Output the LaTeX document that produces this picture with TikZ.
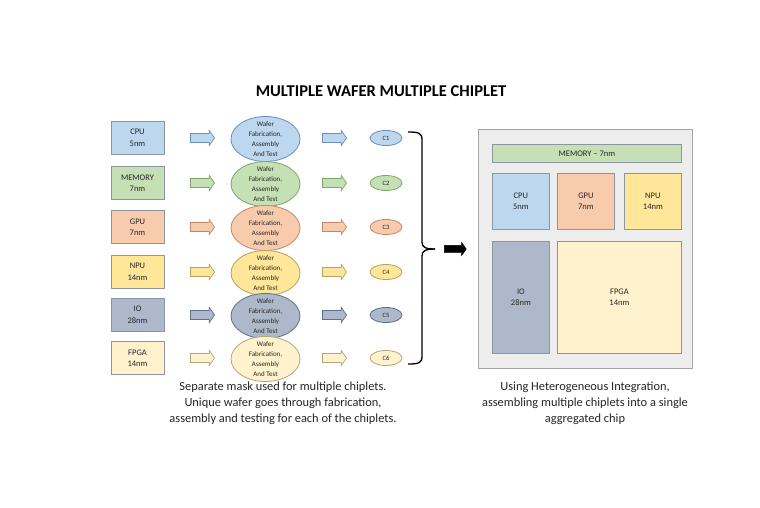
\documentclass[tikz,border=0pt]{standalone}
\usepackage{fontspec}
\setmainfont{Carlito}
\usetikzlibrary{shapes.arrows,shapes.geometric}
\definecolor{cpuF}{HTML}{BDD7EE}\definecolor{cpuD}{HTML}{6C8EBF}
\definecolor{memF}{HTML}{C5E0B4}\definecolor{memD}{HTML}{7FA66A}
\definecolor{gpuF}{HTML}{F8CBAD}\definecolor{gpuD}{HTML}{C08A6A}
\definecolor{npuF}{HTML}{FFE699}\definecolor{npuD}{HTML}{B8A060}
\definecolor{ioF}{HTML}{ADB9CA}\definecolor{ioD}{HTML}{5F708A}
\definecolor{fpgaF}{HTML}{FFF2CC}\definecolor{fpgaD}{HTML}{B3A47A}
\definecolor{edgeG}{HTML}{8C96A3}
\definecolor{txt}{HTML}{262626}
\tikzset{
  chipbox/.style={draw=edgeG, line width=0.8pt, minimum width=53pt, minimum height=33pt, align=center, font=\fontsize{8.5}{11.5}\selectfont, text=txt, inner sep=0pt},
  fab/.style={ellipse, draw, line width=0.8pt, minimum width=69pt, minimum height=45pt, inner sep=0pt},
  fabtxt/.style={align=center, font=\fontsize{7}{10}\selectfont, text=txt, inner sep=0pt},
  cl/.style={ellipse, draw, line width=0.8pt, minimum width=32pt, minimum height=15pt, inner sep=0pt, font=\fontsize{6.5}{8}\selectfont, text=txt},
  blk/.style={single arrow, draw, line width=0.7pt, minimum height=24pt, minimum width=15pt, single arrow head extend=3pt, inner xsep=0pt, inner ysep=4pt, single arrow tip angle=110},
  die/.style={draw=edgeG, line width=0.8pt, anchor=north west, align=center, font=\fontsize{8.5}{11.5}\selectfont, text=txt, inner sep=0pt},
  captxt/.style={align=center, font=\fontsize{12.4}{16}\selectfont, text=txt}
}
\begin{document}
\begin{tikzpicture}[x=1pt,y=-1pt]
\useasboundingbox (0,0) rectangle (760,507);
\fill[white] (0,0) rectangle (760,507);
\node[font=\fontsize{16.5}{18}\selectfont\bfseries, text=black] (title) at (381,91) {MULTIPLE WAFER MULTIPLE CHIPLET};
% rows
\foreach \nm/\lbl/\yy/\F/\D/\cc in {cpu/{CPU\\5nm}/138/cpuF/cpuD/C1, mem/{MEMORY\\7nm}/183/memF/memD/C2, gpu/{GPU\\7nm}/227/gpuF/gpuD/C3, npu/{NPU\\14nm}/272/npuF/npuD/C4, io/{IO\\28nm}/315/ioF/ioD/C5, fpga/{FPGA\\14nm}/358/fpgaF/fpgaD/C6}{
  \node[chipbox, fill=\F] (\nm-box) at (137.5,\yy) {\lbl};
  \node[blk, fill=\F, draw=\D] (\nm-a1) at (201,\yy) {};
  \node[fab, fill=\F, draw=\D] (\nm-fab) at (265.5,\yy+1) {};
  \node[fabtxt] (\nm-fabt) at (\nm-fab) {Wafer\\Fabrication,\\Assembly\\And Test};
  \node[blk, fill=\F, draw=\D] (\nm-a2) at (333,\yy) {};
  \node[cl, fill=\F, draw=\D] (\nm-c) at (386,\yy) {\cc};
}
% brace
\draw[line width=1.3pt, black] (408,132) .. controls (419,132) and (422,133) .. (422,140) -- (422,242) .. controls (422,247) and (425,249) .. (435,249);
\draw[line width=1.3pt, black] (408,364) .. controls (419,364) and (422,363) .. (422,356) -- (422,256) .. controls (422,251) and (425,249) .. (435,249);
\node[single arrow, fill=black, draw=black, minimum height=22pt, minimum width=13pt, single arrow head extend=3pt, inner xsep=0pt, inner ysep=3.5pt, single arrow tip angle=110] (bigarrow) at (454,249) {};
% package
\draw[fill=black!7, draw=black!35, line width=0.8pt] (478,129) rectangle (692,368);
\node[die, fill=memF, minimum width=189pt, minimum height=18pt] (memory) at (492,144) {MEMORY -- 7nm};
\node[die, fill=cpuF, minimum width=57pt, minimum height=56pt] (cpu) at (492,173) {CPU\\5nm};
\node[die, fill=gpuF, minimum width=57pt, minimum height=56pt] (gpu) at (557,173) {GPU\\7nm};
\node[die, fill=npuF, minimum width=57pt, minimum height=56pt] (npu) at (624,173) {NPU\\14nm};
\node[die, fill=ioF, minimum width=57pt, minimum height=112pt] (io) at (492,241) {IO\\28nm};
\node[die, fill=fpgaF, minimum width=124pt, minimum height=112pt] (fpga) at (557,241) {FPGA\\14nm};
% captions
\node[captxt] (capL) at (283,403) {Separate mask used for multiple chiplets.\\Unique wafer goes through fabrication,\\assembly and testing for each of the chiplets.};
\node[captxt] (capR) at (585,403) {Using Heterogeneous Integration,\\assembling multiple chiplets into a single\\aggregated chip};
\end{tikzpicture}
\end{document}
